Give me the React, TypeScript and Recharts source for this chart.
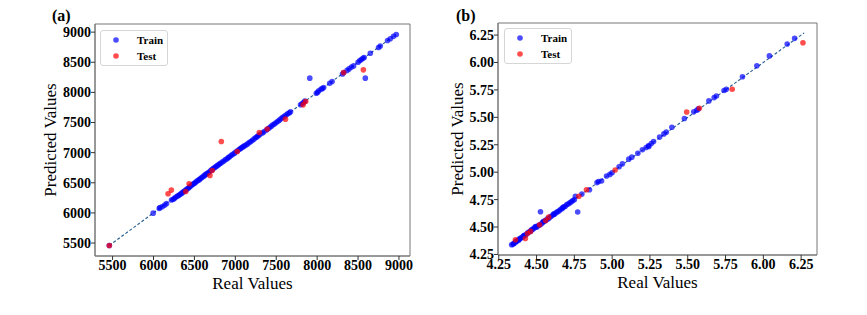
import React from "react";
import {
  ScatterChart,
  Scatter,
  XAxis,
  YAxis,
  ReferenceLine,
  ReferenceArea,
  Legend,
  Label,
} from "recharts";

// panel (a)
const trainRealA = [
  5460, 5996, 6070, 6080, 6110, 6138, 6160, 6220, 6240, 6255, 6270, 6290, 6305, 6320, 6335, 6350,
  6365, 6380, 6395, 6410, 6425, 6440, 6455, 6470, 6485, 6500, 6515, 6530, 6545, 6560, 6575, 6590,
  6605, 6620, 6635, 6650, 6665, 6680, 6700, 6715, 6730, 6745, 6760, 6775, 6790, 6805, 6820, 6840,
  6860, 6880, 6900, 6915, 6930, 6950, 6970, 6990, 7010, 7030, 7050, 7065, 7080, 7095, 7110, 7130,
  7150, 7170, 7190, 7210, 7230, 7250, 7265, 7280, 7300, 7330, 7350, 7380, 7400, 7420, 7440, 7460,
  7480, 7500, 7520, 7540, 7560, 7580, 7600, 7620, 7640, 7660, 7675, 7797, 7815, 7833, 7850, 7910,
  7990, 8005, 8020, 8049, 8065, 8080, 8154, 8183, 8310, 8325, 8366, 8390, 8420, 8446, 8500, 8520,
  8540, 8560, 8575, 8589, 8650, 8751, 8772, 8861, 8894, 8934, 8967,
];
const trainPredA = [
  5460, 5996, 6075, 6090, 6105, 6130, 6155, 6215, 6228, 6240, 6258, 6275, 6290, 6300, 6318, 6332,
  6350, 6362, 6380, 6398, 6410, 6428, 6445, 6462, 6478, 6490, 6508, 6525, 6540, 6552, 6570, 6588,
  6600, 6618, 6635, 6648, 6662, 6680, 6705, 6718, 6735, 6750, 6765, 6780, 6796, 6812, 6825, 6845,
  6862, 6885, 6900, 6920, 6932, 6955, 6972, 6992, 7015, 7035, 7055, 7070, 7085, 7098, 7112, 7128,
  7145, 7168, 7185, 7205, 7228, 7252, 7262, 7280, 7300, 7325, 7345, 7375, 7395, 7418, 7440, 7462,
  7478, 7500, 7522, 7540, 7565, 7585, 7602, 7625, 7645, 7660, 7680, 7794, 7810, 7832, 7855, 8236,
  7985, 8000, 8026, 8054, 8065, 8080, 8150, 8180, 8305, 8330, 8365, 8390, 8420, 8440, 8500, 8525,
  8545, 8565, 8578, 8236, 8650, 8745, 8770, 8860, 8890, 8930, 8960,
];
const testRealA = [5460, 6178, 6218, 6394, 6435, 6690, 6718, 6829, 7024, 7293, 7390, 7613, 7829, 7860, 8324, 8565];
const testPredA = [5460, 6318, 6379, 6356, 6483, 6621, 6704, 7185, 7019, 7334, 7392, 7556, 7793, 7850, 8329, 8374];
const ticksA = [5500, 6000, 6500, 7000, 7500, 8000, 8500, 9000];
const fitA = [5460, 8960];

// panel (b)
const trainRealB = [
  4.335, 4.345, 4.35, 4.36, 4.365, 4.37, 4.38, 4.385, 4.39, 4.4, 4.41, 4.415, 4.42, 4.43, 4.44,
  4.45, 4.46, 4.465, 4.47, 4.48, 4.49, 4.495, 4.5, 4.51, 4.52, 4.53, 4.54, 4.545, 4.55, 4.56,
  4.57, 4.58, 4.59, 4.6, 4.61, 4.615, 4.62, 4.63, 4.64, 4.65, 4.66, 4.67, 4.675, 4.68, 4.69, 4.7,
  4.71, 4.72, 4.73, 4.74, 4.75, 4.757, 4.526, 4.772, 4.8, 4.85, 4.9, 4.91, 4.93, 4.963, 4.985,
  5.0, 5.046, 5.068, 5.11, 5.13, 5.17, 5.2, 5.225, 5.24, 5.243, 5.259, 5.274, 5.314, 5.342, 5.358,
  5.395, 5.478, 5.54, 5.56, 5.57, 5.64, 5.675, 5.69, 5.74, 5.755, 5.862, 5.957, 6.04, 6.158, 6.207,
];
const trainPredB = [
  4.338, 4.342, 4.352, 4.358, 4.37, 4.372, 4.378, 4.39, 4.392, 4.405, 4.41, 4.42, 4.425, 4.43, 4.445,
  4.455, 4.462, 4.47, 4.478, 4.485, 4.5, 4.505, 4.498, 4.512, 4.518, 4.528, 4.54, 4.55, 4.552, 4.56,
  4.572, 4.578, 4.592, 4.6, 4.612, 4.62, 4.618, 4.632, 4.64, 4.648, 4.662, 4.668, 4.68, 4.682, 4.69, 4.705,
  4.71, 4.722, 4.73, 4.742, 4.748, 4.78, 4.639, 4.637, 4.8, 4.84, 4.905, 4.915, 4.92, 4.965, 4.98,
  4.995, 5.05, 5.076, 5.119, 5.137, 5.173, 5.204, 5.225, 5.24, 5.235, 5.262, 5.28, 5.32, 5.349, 5.365,
  5.41, 5.489, 5.55, 5.565, 5.577, 5.65, 5.68, 5.695, 5.745, 5.755, 5.87, 5.97, 6.06, 6.169, 6.22,
];
const testRealB = [4.36, 4.426, 4.44, 4.46, 4.52, 4.56, 4.58, 4.78, 4.83, 5.02, 5.493, 5.577, 5.794, 6.262];
const testPredB = [4.384, 4.396, 4.44, 4.46, 4.52, 4.56, 4.59, 4.78, 4.84, 5.02, 5.549, 5.583, 5.756, 6.18];
const ticksB = [4.25, 4.5, 4.75, 5.0, 5.25, 5.5, 5.75, 6.0, 6.25];
const fitB = [4.335, 6.27];

const SERIES_ORDER = ["Train", "Test"];

const SERIF = "'Liberation Serif', 'Times New Roman', serif";
const TRAIN_COLOR = "#0000ff";
const TEST_COLOR = "#ff0000";

const zip = (xs: number[], ys: number[]) => xs.map((x, i) => ({ x, y: ys[i] }));

const Dot = (color: string) => (p: any) => (
  <circle cx={p.cx} cy={p.cy} r={2.8} fill={color} fillOpacity={0.7} />
);

function LegendBox({ payload }: any) {
  const items = [...(payload || [])].sort(
    (a: any, b: any) => SERIES_ORDER.indexOf(a.value) - SERIES_ORDER.indexOf(b.value)
  );
  return (
    <div
      style={{
        width: 68,
        height: 36,
        boxSizing: "border-box",
        border: "1px solid #d6d6d6",
        borderRadius: 3,
        background: "#fff",
        position: "relative",
        fontFamily: SERIF,
        fontWeight: "bold",
        fontSize: 11,
      }}
    >
      {items.map((e: any, i: number) => (
        <div key={i} style={{ position: "absolute", top: 1 + i * 16, left: 0, height: 16, width: "100%" }}>
          <svg width={8} height={8} style={{ position: "absolute", left: 11, top: 4 }}>
            <circle cx={4} cy={4} r={2.8} fill={e.value === "Train" ? TRAIN_COLOR : TEST_COLOR} fillOpacity={0.7} />
          </svg>
          <span style={{ position: "absolute", left: 36, top: 0, lineHeight: "16px" }}>{e.value}</span>
        </div>
      ))}
    </div>
  );
}

interface PanelProps {
  width: number;
  margin: { top: number; right: number; bottom: number; left: number };
  yWidth: number;
  domainX: [number, number];
  domainY: [number, number];
  ticks: number[];
  fmt: (v: number) => string;
  train: { x: number; y: number }[];
  test: { x: number; y: number }[];
  fit: number[];
  legendPos: { left: number; top: number };
  yLabelX: number;
}

function Panel(p: PanelProps) {
  const tick = { fontFamily: SERIF, fontWeight: "bold", fontSize: 14, fill: "#000" };
  return (
    <ScatterChart width={p.width} height={315} margin={p.margin}>
      <XAxis
        type="number"
        dataKey="x"
        domain={p.domainX}
        ticks={p.ticks}
        allowDataOverflow
        tickFormatter={p.fmt}
        tick={tick}
        tickSize={4}
        tickMargin={0}
        axisLine={{ stroke: "#777" }}
        tickLine={{ stroke: "#333" }}
        height={30}
        interval={0}
      >
        <Label
          content={({ viewBox }: any) => (
            <text
              x={viewBox.x + viewBox.width / 2}
              y={viewBox.y + 32.5}
              textAnchor="middle"
              fontFamily={SERIF}
              fontSize={17}
              fill="#000"
            >
              Real Values
            </text>
          )}
        />
      </XAxis>
      <YAxis
        type="number"
        dataKey="y"
        domain={p.domainY}
        ticks={p.ticks}
        allowDataOverflow
        tickFormatter={p.fmt}
        tick={tick}
        tickSize={4}
        tickMargin={0}
        axisLine={{ stroke: "#777" }}
        tickLine={{ stroke: "#333" }}
        width={p.yWidth}
        interval={0}
      >
        <Label
          content={({ viewBox }: any) => {
            const cy = viewBox.y + viewBox.height / 2;
            return (
              <text
                x={p.yLabelX}
                y={cy}
                transform={`rotate(-90, ${p.yLabelX}, ${cy})`}
                textAnchor="middle"
                fontFamily={SERIF}
                fontSize={17}
                fill="#000"
              >
                Predicted Values
              </text>
            );
          }}
        />
      </YAxis>
      <ReferenceArea
        x1={p.domainX[0]}
        x2={p.domainX[1]}
        y1={p.domainY[0]}
        y2={p.domainY[1]}
        fill="none"
        stroke="#777"
        strokeWidth={1}
        ifOverflow="visible"
      />
      <ReferenceLine
        segment={[
          { x: p.fit[0], y: p.fit[0] },
          { x: p.fit[1], y: p.fit[1] },
        ]}
        stroke="#1f5a8f"
        strokeWidth={1.1}
        strokeDasharray="3 2"
      />
      <Scatter name="Train" data={p.train} fill={TRAIN_COLOR} shape={Dot(TRAIN_COLOR)} isAnimationActive={false} />
      <Scatter name="Test" data={p.test} fill={TEST_COLOR} shape={Dot(TEST_COLOR)} isAnimationActive={false} />
      <Legend
        layout="vertical"
        align="center"
        verticalAlign="middle"
        content={LegendBox}
        wrapperStyle={{ left: p.legendPos.left, top: p.legendPos.top, width: 68, height: 36 }}
      />
    </ScatterChart>
  );
}

export default function App() {
  const panelLabel: React.CSSProperties = {
    position: "absolute",
    fontFamily: SERIF,
    fontWeight: "bold",
    fontSize: 16,
    lineHeight: "16px",
    color: "#000",
  };
  return (
    <div style={{ position: "relative", width: 867, height: 315, background: "#fff" }}>
      <style>{`body{margin:0}`}</style>
      <div style={{ position: "absolute", left: 0, top: 0 }}>
        <Panel
          width={430}
          margin={{ top: 24, right: 20, bottom: 29, left: 0 }}
          yWidth={95}
          domainX={[5285, 9135]}
          domainY={[5285, 9135]}
          ticks={ticksA}
          fmt={(v) => String(v)}
          train={zip(trainRealA, trainPredA)}
          test={zip(testRealA, testPredA)}
          fit={fitA}
          legendPos={{ left: 100, top: 30 }}
          yLabelX={56}
        />
      </div>
      <div style={{ position: "absolute", left: 430, top: 0 }}>
        <Panel
          width={437}
          margin={{ top: 23, right: 50, bottom: 30, left: 0 }}
          yWidth={68}
          domainX={[4.245, 6.355]}
          domainY={[4.245, 6.36]}
          ticks={ticksB}
          fmt={(v) => v.toFixed(2)}
          train={zip(trainRealB, trainPredB)}
          test={zip(testRealB, testPredB)}
          fit={fitB}
          legendPos={{ left: 74, top: 28 }}
          yLabelX={33}
        />
      </div>
      <div style={{ ...panelLabel, left: 52, top: 8 }}>(a)</div>
      <div style={{ ...panelLabel, left: 456, top: 8 }}>(b)</div>
    </div>
  );
}
